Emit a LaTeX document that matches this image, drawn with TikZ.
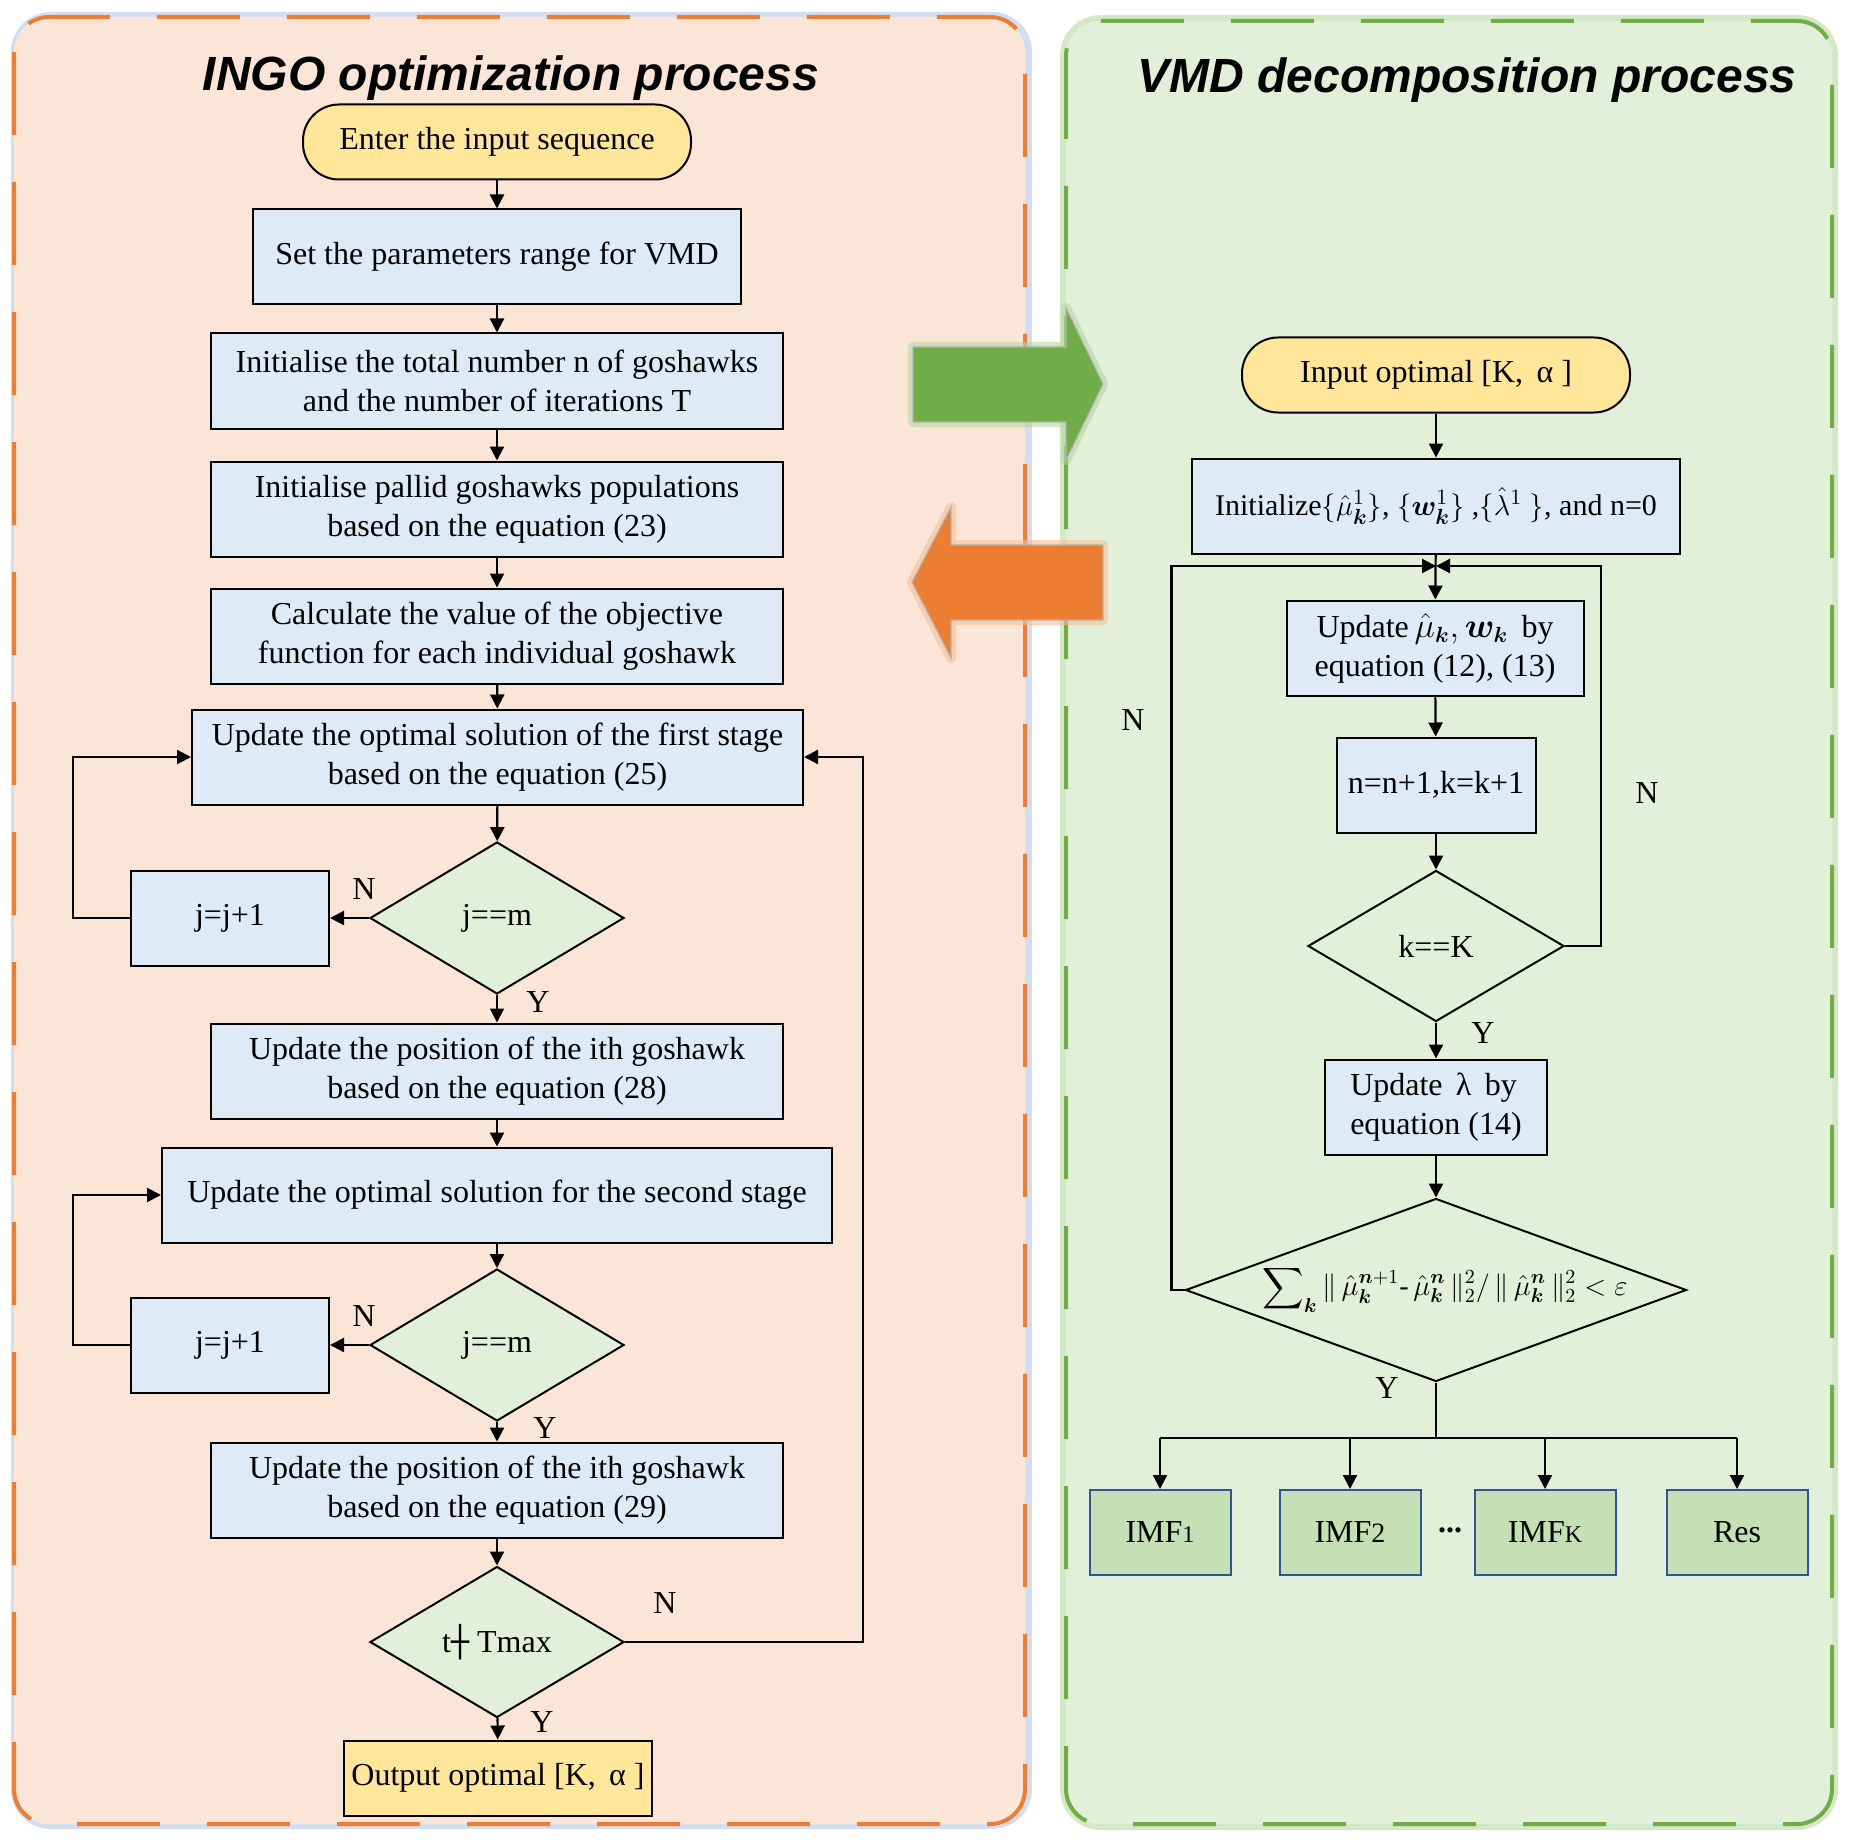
\documentclass[tikz,border=0pt]{standalone}
\usepackage{amsmath,bm}
\usepackage{fontspec}
\setmainfont{Liberation Serif}
\newfontfamily\titlefont{Liberation Sans}
\newfontfamily\dejavu{DejaVu Sans}
\usetikzlibrary{shapes.geometric,arrows.meta,calc}
\definecolor{peach}{RGB}{251,229,214}
\definecolor{panelgreen}{RGB}{226,240,217}
\definecolor{boxblue}{RGB}{222,235,247}
\definecolor{diagreen}{RGB}{226,240,217}
\definecolor{termyellow}{RGB}{255,230,153}
\definecolor{imfgreen}{RGB}{197,224,180}
\definecolor{imfblue}{RGB}{47,85,151}
\definecolor{myorange}{RGB}{237,125,49}
\definecolor{mygreen}{RGB}{112,173,71}
\definecolor{glowblue}{RGB}{180,199,231}
\definecolor{glowgreen}{RGB}{169,209,142}
\begin{document}
\begin{tikzpicture}[x=0.5pt,y=-0.5pt,
  txt/.style={font=\fontsize{16}{19.5}\selectfont},
  box/.style={txt,draw=black,line width=1pt,fill=boxblue,align=center,inner sep=2pt,minimum height=47.5pt},
  term/.style={box,fill=termyellow,rounded corners=18pt,minimum height=37.5pt,minimum width=194pt},
  dia/.style={txt,draw=black,diamond,fill=diagreen,inner sep=0pt,line width=1pt},
  imf/.style={txt,draw=imfblue,line width=1pt,fill=imfgreen,minimum width=70.5pt,minimum height=42.5pt},
  arr/.style={line width=1.1pt,-{Triangle[length=7pt,width=7pt]}},
  ln/.style={line width=1.1pt},
  lbl/.style={txt},
  ttl/.style={font=\fontsize{24}{28}\titlefont\bfseries\itshape}]
\useasboundingbox (0,0) rectangle (1851,1840);
% panels
\draw[glowblue,line width=5pt,opacity=0.6,rounded corners=17.5pt] (16,17) rectangle (1027,1824);
\fill[peach,rounded corners=17.5pt] (14,17) rectangle (1025,1824);
\draw[myorange,line width=2pt,dash pattern=on 41.5pt off 23.5pt,rounded corners=17.5pt] (14,17) rectangle (1025,1824);
\draw[glowgreen,line width=6pt,opacity=0.5,rounded corners=17.5pt] (1066,21) rectangle (1832,1824);
\fill[panelgreen,rounded corners=17.5pt] (1066,21) rectangle (1832,1824);
\draw[mygreen,line width=2pt,dash pattern=on 41.5pt off 23.5pt,rounded corners=17.5pt] (1066,21) rectangle (1832,1824);
% titles
\node[ttl] (t1) at (511,78) {INGO optimization process};
\node[ttl] (t2) at (1467,80) {VMD decomposition process};
% big arrows
\draw[mygreen!50,line width=5pt,opacity=0.6,line join=round] (913,347) -- (1066,347) -- (1066,308) -- (1103,384) -- (1066,460) -- (1066,422) -- (913,422) -- cycle;
\filldraw[fill=mygreen,draw=gray!60,line width=0.6pt] (913,347) -- (1066,347) -- (1066,308) -- (1103,384) -- (1066,460) -- (1066,422) -- (913,422) -- cycle;
\draw[myorange!50,line width=5pt,opacity=0.6,line join=round] (1103,545) -- (951,545) -- (951,507) -- (912,582) -- (951,658) -- (951,620) -- (1103,620) -- cycle;
\filldraw[fill=myorange,draw=gray!60,line width=0.6pt] (1103,545) -- (951,545) -- (951,507) -- (912,582) -- (951,658) -- (951,620) -- (1103,620) -- cycle;
% left column
\node[term] (a1) at (497,142) {Enter the input sequence};
\node[box,minimum width=244pt] (a2) at (497,257) {Set the parameters range for VMD};
\node[box,minimum width=286pt] (a3) at (497,381) {Initialise the total number n of goshawks\\and the number of iterations T};
\node[box,minimum width=286pt] (a4) at (497,509) {Initialise pallid goshawks populations\\based on the equation (23)};
\node[box,minimum width=286pt] (a5) at (497,636) {Calculate the value of the objective\\function for each individual goshawk};
\node[box,minimum width=305.5pt] (a6) at (497.5,757) {Update the optimal solution of the first stage\\based on the equation (25)};
\node[dia,minimum width=127pt,minimum height=76pt] (a7) at (497,918) {j==m};
\node[box,minimum width=99pt] (a8) at (230,918) {j=j+1};
\node[box,minimum width=286pt] (a9) at (497,1071) {Update the position of the ith goshawk\\based on the equation (28)};
\node[box,minimum width=335pt] (a10) at (497,1195) {Update the optimal solution for the second stage};
\node[dia,minimum width=127pt,minimum height=76pt] (a11) at (497,1345) {j==m};
\node[box,minimum width=99pt] (a12) at (230,1345) {j=j+1};
\node[box,minimum width=286pt] (a13) at (497,1490) {Update the position of the ith goshawk\\based on the equation (29)};
\node[dia,minimum width=127pt,minimum height=75.5pt] (a14) at (497,1642) {t{\dejavu\fontsize{15}{15}\selectfont ┼} Tmax};
\node[box,fill=termyellow,minimum width=154pt,minimum height=37.5pt] (a15) at (498,1778) {Output optimal [K,\, α ]};
\draw[arr] (a1) -- (a2);
\draw[arr] (a2) -- (a3);
\draw[arr] (a3) -- (a4);
\draw[arr] (a4) -- (a5);
\draw[arr] (a5) -- (a6);
\draw[arr] (a6) -- (a7);
\draw[arr] (a7) -- (a9);
\draw[arr] (a7.west) -- (a8.east);
\draw[arr] (a8.west) -- ++(-57,0) |- (a6.west);
\draw[arr] (a9) -- (a10);
\draw[arr] (a10) -- (a11);
\draw[arr] (a11) -- (a13);
\draw[arr] (a11.west) -- (a12.east);
\draw[arr] (a12.west) -- ++(-57,0) |- (a10.west);
\draw[arr] (a13) -- (a14);
\draw[arr] (a14) -- (a15);
\draw[arr] (a14.east) -- ++(238,0) |- (a6.east);
\node[lbl] (n1) at (364,889) {N};
\node[lbl] (y1) at (538,1002) {Y};
\node[lbl] (n2) at (364,1316) {N};
\node[lbl] (y2) at (545,1428) {Y};
\node[lbl] (n3) at (665,1603) {N};
\node[lbl] (y3) at (542,1722) {Y};
% right column
\node[term] (b1) at (1436,375) {Input optimal [K,\, α ]};
\node[box,minimum width=244pt,inner sep=0pt,font=\fontsize{15}{18}\selectfont] (b2) at (1436,506) {Initialize$\{\hat{\mu}_{\bm k}^{1}\}$, $\{\bm{w}_{\bm k}^{1}\}$ ,$\{\hat{\lambda}^{1}\ \}$, and n=0};
\node[box,minimum width=148.5pt] (b3) at (1435,648) {Update$\,\hat{\mu}_{\bm k},\bm{w}_{\bm k}$\, by\\equation (12), (13)};
\node[box,minimum width=99.5pt] (b4) at (1436,785) {n=n+1,k=k+1};
\node[dia,fill=panelgreen,minimum width=128pt,minimum height=75.5pt] (b5) at (1436,946) {k==K};
\node[box,minimum width=111pt,align=left] (b6) at (1436,1107) {Update\, λ\, by\\equation (14)};
\node[dia,fill=panelgreen,minimum width=250.5pt,minimum height=91.5pt] (b7) at (1436,1290) {};
\node[txt,font=\fontsize{14}{16}\selectfont] (b7t) at (1445,1289) {$\displaystyle\sum\nolimits_{\bm k}\|\,\hat{\mu}_{\bm k}^{\bm{n}+1}\text{-}\,\hat{\mu}_{\bm k}^{\bm n}\,\|_2^2/\,\|\,\hat{\mu}_{\bm k}^{\bm n}\,\|_2^2<\varepsilon$};
\coordinate (jn) at (1436,566);
\draw[arr] (b1) -- (b2);
\draw[arr] (b2) -- (b3);
\draw[arr] (b3) -- (b4);
\draw[arr] (b4) -- (b5);
\draw[arr] (b5) -- (b6);
\draw[arr] (b6) -- (b7);
\draw[arr] (b5.east) -- ++(36,0) |- (jn);
\draw[arr] (b7.west) -- ++(-13,0) |- (jn);
\node[lbl] (n4) at (1647,793) {N};
\node[lbl] (y4) at (1483,1033) {Y};
\node[lbl] (n5) at (1133,720) {N};
\node[lbl] (y5) at (1387,1388) {Y};
\node[imf] (c1) at (1160,1532.5) {IMF{\fontsize{12}{12}\selectfont 1}};
\node[imf] (c2) at (1350,1532.5) {IMF{\fontsize{14}{14}\selectfont 2}};
\node[imf] (c3) at (1545,1532.5) {IMF{\fontsize{12}{12}\selectfont K}};
\node[imf] (c4) at (1737,1532.5) {Res};
\node[txt,font=\fontsize{16}{16}\selectfont\bfseries] (dots) at (1450,1530) {...};
\coordinate (bus) at (1436,1438);
\draw[ln] (b7.south) -- (bus);
\draw[ln] (c1.north |- bus) -- (c4.north |- bus);
\draw[arr] (c1.north |- bus) -- (c1.north);
\draw[arr] (c2.north |- bus) -- (c2.north);
\draw[arr] (c3.north |- bus) -- (c3.north);
\draw[arr] (c4.north |- bus) -- (c4.north);
\end{tikzpicture}
\end{document}
